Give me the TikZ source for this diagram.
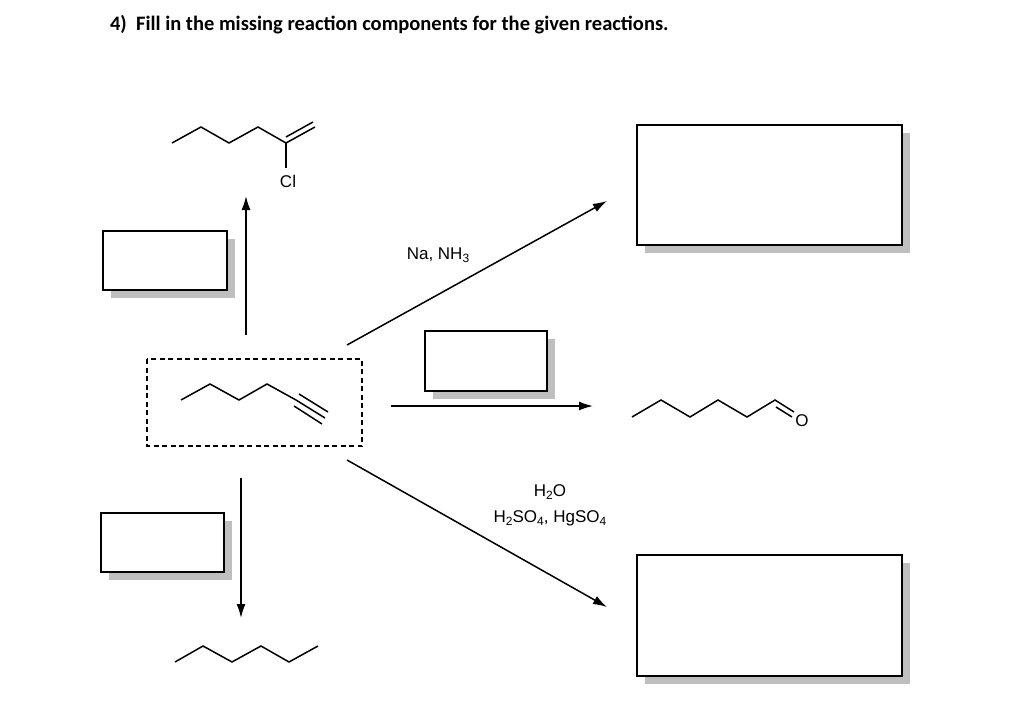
\documentclass[tikz,border=0pt]{standalone}
\usepackage{fontspec}
\usetikzlibrary{arrows.meta}
\setmainfont{Liberation Sans}
\newfontfamily\myttl{Carlito}
\newcommand{\sbs}[1]{\raisebox{-0.35ex}{\fontsize{12}{12}\selectfont #1}}
\begin{document}
\begin{tikzpicture}[x=1pt,y=-1pt,line width=1.5pt,
  bx/.style={draw=black,fill=white,line width=1.8pt},
  sh/.style={fill=black!25,draw=none},
  ar/.style={-{Latex[length=14pt,width=9pt]}},
  lab/.style={font=\fontsize{17}{19}\selectfont,inner sep=0pt}]
\useasboundingbox (0,0) rectangle (1024,714);
\node[anchor=west,font=\myttl\bfseries\fontsize{20.5}{22}\selectfont] (title) at (106,25) {4)\ \ Fill in the missing reaction components for the given reactions.};
% boxes
\foreach \n/\a/\b/\c/\d in {b1/637/125/902/245, b2/103/231/227/290, b3/425/331/547/391, b4/101/513/224/572, b5/637/555/902/676}{
  \fill[sh] (\a+8,\b+8) rectangle (\c+8,\d+8);
  \draw[bx] (\a,\b) rectangle (\c,\d);
  \coordinate (\n) at (\a,\b);
}
% top vinyl chloride
\draw (172,143) -- (201,127) -- (229,143) -- (258,127) -- (286,143) -- (315,127);
\draw (286,137) -- (313,122);
\draw (286,143) -- (286,168);
\node[lab] (cl) at (288,181) {Cl};
% alkyne
\draw[dash pattern=on 5pt off 3.5pt,line width=1.3pt] (147,359) rectangle (362,446);
\draw (181,400) -- (210,384) -- (239,400) -- (267,384) -- (296,400) -- (325,418);
\draw (299,394) -- (328,412);
\draw (294,406) -- (322,424);
% aldehyde
\draw (632,417) -- (661,400) -- (690,417) -- (718,400) -- (747,417) -- (775,400) -- (794,412);
\draw (776,407) -- (792,417);
\node[lab] (o) at (802,421) {O};
% hexane
\draw (175,662) -- (203,646) -- (232,662) -- (261,646) -- (289,662) -- (318,646);
% arrows
\coordinate (u1) at (246,335); \coordinate (u2) at (246,196);
\draw[ar] (u1) -- (u2);
\coordinate (d1) at (241,478); \coordinate (d2) at (241,618);
\draw[ar] (d1) -- (d2);
\coordinate (r1) at (347,345); \coordinate (r2) at (607,201);
\draw[ar] (r1) -- (r2);
\coordinate (h1) at (391,406); \coordinate (h2) at (593,406);
\draw[ar] (h1) -- (h2);
\coordinate (s1) at (347,460); \coordinate (s2) at (607,607);
\draw[ar] (s1) -- (s2);
\node[lab] (na) at (438,255) {Na, NH\sbs{3}};
\node[lab] (h2o) at (550,492) {H\sbs{2}O};
\node[lab] (hg) at (550,518) {H\sbs{2}SO\sbs{4}, HgSO\sbs{4}};
\end{tikzpicture}
\end{document}
